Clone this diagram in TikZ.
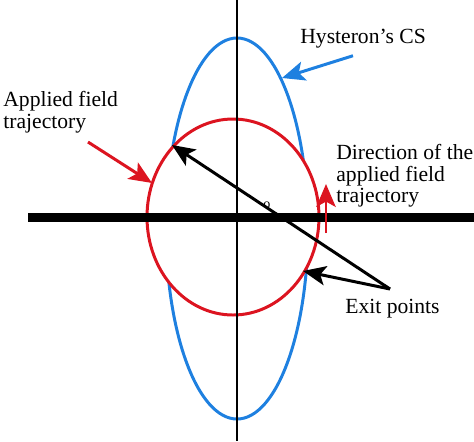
\documentclass[tikz,border=0pt]{standalone}
\usepackage{fontspec}
\setmainfont{Liberation Serif}
\usepackage{tikz}
\usetikzlibrary{arrows.meta,positioning}
\definecolor{csblue}{HTML}{1E80E0}
\definecolor{trjred}{HTML}{DC1420}
\tikzset{
  axisthin/.style={draw=black,line width=1.4pt},
  axisthick/.style={draw=black,line width=5pt},
  csline/.style={draw=csblue,line width=1.7pt},
  trjline/.style={draw=trjred,fill=white,line width=1.7pt},
  lbltxt/.style={inner sep=0pt,align=left,font=\fontsize{12.3}{12.2}\selectfont},
  ptrblack/.style={-{Stealth[length=13pt,width=11pt,inset=3pt]},line width=1.7pt,black},
  ptrred/.style={ptrblack,trjred},
  ptrblue/.style={ptrblack,csblue},
}

\begin{document}
\begin{tikzpicture}[x=0.02cm,y=-0.02cm]
  \useasboundingbox (0,0) rectangle (474,441);
  % curves (the trajectory hides the CS inside it)
  \draw[csline] (237,228.5) ellipse [x radius=71,y radius=190.5];
  \draw[trjline] (233,217) ellipse [x radius=86,y radius=98];
  % axes
  \coordinate (vTop) at (237,0);
  \coordinate (vBot) at (237,441);
  \coordinate (hLeft) at (28,217.5);
  \coordinate (hRight) at (474,217.5);
  \draw[axisthin] (vTop) -- (vBot);
  \draw[axisthick] (hLeft) -- (hRight);
  % points on the curves
  \coordinate (exitA) at (172,145);
  \coordinate (exitB) at (303,271);
  \coordinate (fork) at (390,289);
  \coordinate (csPt) at (282,78);
  \coordinate (trjPt) at (152,183);
  \coordinate (dirTail) at (326,233);
  \coordinate (dirTip) at (326,184);
  % labels
  \node[lbltxt,anchor=north west] (csLbl) at (300,29) {Hysteron’s CS};
  \node[lbltxt,anchor=north west] (trjLbl) at (3,91) {Applied field\\trajectory};
  \node[lbltxt,anchor=north west] (dirLbl) at (336,144) {Direction of the\\applied field\\trajectory};
  \node[lbltxt,anchor=base west] (exitLbl) at (345,313) {Exit points};
  \node[inner sep=0pt,font=\fontsize{8}{8}\selectfont] (oLbl) at (267,205) {o};
  % pointers
  \draw[ptrblack] (fork) -- (exitA);
  \draw[ptrblack] (fork) -- (exitB);
  \draw[ptrblue] (csLbl.south west) ++(53,7) coordinate (csTail) (csTail) -- (csPt);
  \draw[ptrred] (trjLbl.south west) ++(85,9) coordinate (trjTail) (trjTail) -- (trjPt);
  \draw[ptrred] (dirTail) -- (dirTip);
\end{tikzpicture}
\end{document}
